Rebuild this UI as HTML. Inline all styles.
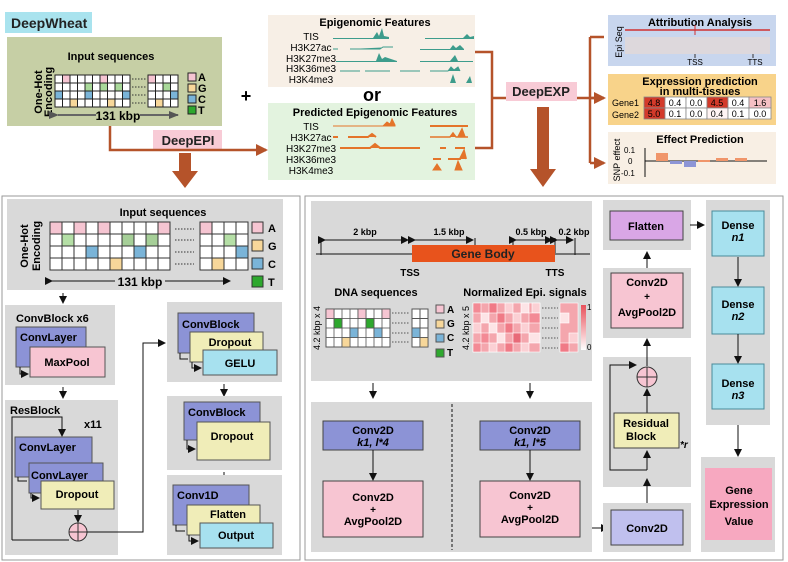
<!DOCTYPE html>
<html><head><meta charset="utf-8"><style>
body{margin:0;background:#fff}
svg{display:block;font-family:"Liberation Sans",Arial,sans-serif}
.b{font-weight:bold}
</style></head><body>
<svg width="788" height="562" viewBox="0 0 788 562" xmlns="http://www.w3.org/2000/svg">
<defs>
<marker id="ak" markerWidth="8" markerHeight="8" refX="7" refY="4" orient="auto" markerUnits="userSpaceOnUse"><path d="M0,0 L8,4 L0,8 z" fill="#111"/></marker>
<marker id="ar" markerWidth="12" markerHeight="12" refX="10" refY="6" orient="auto" markerUnits="userSpaceOnUse"><path d="M0,0 L12,6 L0,12 z" fill="#b5532a"/></marker>
<marker id="ag" markerWidth="10" markerHeight="10" refX="9" refY="5" orient="auto" markerUnits="userSpaceOnUse"><path d="M0,1 L10,5 L0,9 z" fill="#555"/></marker>
<pattern id="g7" x="55" y="75" width="7.5" height="8" patternUnits="userSpaceOnUse"><rect width="7.5" height="8" fill="#fff" stroke="#222" stroke-width="1"/></pattern>
<pattern id="g12" x="50" y="222" width="12" height="12" patternUnits="userSpaceOnUse"><rect width="12" height="12" fill="#fff" stroke="#333" stroke-width="1"/></pattern>
<pattern id="g12b" x="200" y="222" width="12" height="12" patternUnits="userSpaceOnUse"><rect width="12" height="12" fill="#fff" stroke="#333" stroke-width="1"/></pattern>
<pattern id="g8" x="326" y="309" width="8" height="9.5" patternUnits="userSpaceOnUse"><rect width="8" height="9.5" fill="#fff" stroke="#555" stroke-width="0.8"/></pattern>
<linearGradient id="cb" x1="0" y1="0" x2="0" y2="1"><stop offset="0" stop-color="#e8505a"/><stop offset="1" stop-color="#fff"/></linearGradient>
</defs>

<!-- ===== TOP ===== -->
<rect x="5" y="12" width="87" height="21" fill="#a9e3ee"/>
<text x="11" y="28" class="b" font-size="14" fill="#222">DeepWheat</text>
<rect x="7" y="37" width="215" height="89" fill="#c6cfa5"/>
<text x="111" y="60" class="b" font-size="11" text-anchor="middle">Input sequences</text>
<text transform="translate(42,92) rotate(-90)" class="b" font-size="11" text-anchor="middle">One-Hot</text>
<text transform="translate(52,92) rotate(-90)" class="b" font-size="11" text-anchor="middle">Encoding</text>
<rect x="55" y="75" width="75" height="32" fill="url(#g7)" stroke="#222"/>
<rect x="148" y="75" width="30" height="32" fill="#fff" stroke="#222"/>
<path d="M155.5,75v32M163,75v32M170.5,75v32M148,83h30M148,91h30M148,99h30" stroke="#222" fill="none"/>
<g stroke="#222" stroke-width="1">
<rect x="62.5" y="75" width="7.5" height="8" fill="#f6c5d2"/><rect x="100" y="75" width="7.5" height="8" fill="#f6c5d2"/><rect x="148" y="75" width="7.5" height="8" fill="#f6c5d2"/>
<rect x="85" y="83" width="7.5" height="8" fill="#a9d99a"/><rect x="100" y="83" width="7.5" height="8" fill="#a9d99a"/><rect x="115" y="83" width="7.5" height="8" fill="#a9d99a"/><rect x="163" y="83" width="7.5" height="8" fill="#a9d99a"/>
<rect x="55" y="91" width="7.5" height="8" fill="#7ab4d8"/><rect x="85" y="91" width="7.5" height="8" fill="#7ab4d8"/><rect x="122.5" y="91" width="7.5" height="8" fill="#7ab4d8"/><rect x="170.5" y="91" width="7.5" height="8" fill="#7ab4d8"/>
<rect x="70" y="99" width="7.5" height="8" fill="#f7d79a"/><rect x="107.5" y="99" width="7.5" height="8" fill="#f7d79a"/><rect x="155.5" y="99" width="7.5" height="8" fill="#f7d79a"/>
</g>
<path d="M132,79h14M132,87h14M132,95h14M132,103h14" stroke="#333" stroke-dasharray="1.5,1.5"/>
<g stroke="#222"><rect x="188" y="73" width="8" height="8" fill="#f6c5d2"/><rect x="188" y="84" width="8" height="8" fill="#f7d79a"/><rect x="188" y="95" width="8" height="8" fill="#7ab4d8"/><rect x="188" y="106" width="8" height="8" fill="#2ea82e"/></g>
<g class="b" font-size="11"><text x="198" y="81">A</text><text x="198" y="92">G</text><text x="198" y="103">C</text><text x="198" y="114">T</text></g>
<line x1="58" y1="115" x2="96" y2="115" stroke="#666" stroke-width="2" marker-start="url(#ag)"/>
<line x1="140" y1="115" x2="178" y2="115" stroke="#666" stroke-width="2" marker-end="url(#ag)"/>
<text x="118" y="120" class="b" font-size="12" text-anchor="middle">131 kbp</text>
<text x="246" y="102" class="b" font-size="18" text-anchor="middle">+</text>

<rect x="268" y="15" width="207" height="72" fill="#f7efe6"/>
<text x="375" y="26" class="b" font-size="11" text-anchor="middle">Epigenomic Features</text>
<g font-size="10" text-anchor="middle"><text x="311" y="40">TIS</text><text x="311" y="51">H3K27ac</text><text x="311" y="62">H3K27me3</text><text x="311" y="72">H3K36me3</text><text x="311" y="83">H3K4me3</text></g>
<g fill="#3d9c8c">
<path d="M333,38h40l4,-6 2,4 3,-8 2,8 5,1v2h-56z"/><path d="M425,38h38l4,-4 3,3 4,-1v3h-49z"/>
<path d="M333,49h5M350,49h30l3,-2h10" stroke="#3d9c8c"/><path d="M420,49h30l3,-4 3,3 4,-3 4,4v1h-44z"/>
<path d="M336,61h40l3,-8 3,6 3,-2 12,4v1h-61z"/><path d="M420,61h30l5,-6 3,6h15v1h-53z"/>
<path d="M340,71h20M365,71h25M400,71h20M430,71h18l3,-4 3,3 4,-3 2,4" stroke="#3d9c8c"/>
<path d="M445,83h5l3,-9 3,9h10l4,-7 2,7z"/>
</g>
<text x="372" y="101" class="b" font-size="18" text-anchor="middle">or</text>
<rect x="268" y="103" width="207" height="77" fill="#e3f3df"/>
<text x="375" y="116" class="b" font-size="11" text-anchor="middle">Predicted Epigenomic Features</text>
<g font-size="10" text-anchor="middle"><text x="311" y="130">TIS</text><text x="311" y="141">H3K27ac</text><text x="311" y="152">H3K27me3</text><text x="311" y="163">H3K36me3</text><text x="311" y="174">H3K4me3</text></g>
<g fill="#e4742a" stroke="#e4742a">
<path d="M333,126h50l4,-4 3,2 2,-5 3,6v1h-62z"/><path d="M430,126h38" stroke-width="2"/>
<path d="M333,137h5M348,137h20l4,-3 4,3" stroke-width="2"/><path d="M430,137h20l3,-4 3,4h12M458,137l4,-8 3,8" stroke-width="1.5"/>
<path d="M340,148h30l5,-4 5,4h40M440,148h6M455,148h10" stroke-width="2"/>
<path d="M433,159h8M448,159h12l4,-8 2,8" stroke-width="2"/>
<path d="M433,170l4,-6 4,6zM455,170l3,-9 4,9z"/>
</g>

<rect x="153" y="130" width="69" height="20" fill="#f8cbd6"/>
<text x="188" y="145" class="b" font-size="13" text-anchor="middle" fill="#222">DeepEPI</text>
<path d="M110,126V150H266" stroke="#b5532a" stroke-width="2.5" fill="none" marker-end="url(#ar)"/>
<path d="M179,153h12v18h7l-13,17l-13,-17h7z" fill="#b5532a"/>
<path d="M475,52H492V148H475M492,98H602" stroke="#b5532a" stroke-width="2.5" fill="none"/>
<path d="M590,37V163" stroke="#b5532a" stroke-width="2.5"/>
<path d="M590,37H604M590,163H604" stroke="#b5532a" stroke-width="2.5" marker-end="url(#ar)"/>
<path d="M590,98H604" stroke="#b5532a" stroke-width="2.5" marker-end="url(#ar)"/>
<rect x="506" y="82" width="71" height="19" fill="#f8cbd6"/>
<text x="541" y="96" class="b" font-size="13" text-anchor="middle" fill="#222">DeepEXP</text>
<path d="M537,107h12v62h7l-13,18l-13,-18h7z" fill="#b5532a"/>

<rect x="608" y="15" width="168" height="51" fill="#c8d6ee"/>
<text x="700" y="26" class="b" font-size="11" text-anchor="middle">Attribution Analysis</text>
<text transform="translate(622,42) rotate(-90)" font-size="9" text-anchor="middle">Epi Seq</text>
<path d="M625,30h145" stroke="#d03030" stroke-width="1.5"/><path d="M695,25v10" stroke="#d03030"/>
<rect x="625" y="37" width="145" height="17" fill="#ddd8dc"/>
<path d="M695,54v4M753,54v4" stroke="#333"/>
<text x="695" y="65" font-size="8" text-anchor="middle">TSS</text><text x="755" y="65" font-size="8" text-anchor="middle">TTS</text>
<rect x="608" y="74" width="168" height="51" fill="#f8d38a"/>
<text x="700" y="85" class="b" font-size="11" text-anchor="middle">Expression prediction</text>
<text x="700" y="95" class="b" font-size="11" text-anchor="middle">in multi-tissues</text>
<g font-size="9"><text x="612" y="106">Gene1</text><text x="612" y="118">Gene2</text></g>
<g stroke="#888" stroke-width="0.8">
<rect x="644" y="97" width="21" height="11" fill="#d33a2a"/><rect x="665" y="97" width="21" height="11" fill="#fff"/><rect x="686" y="97" width="21" height="11" fill="#fff"/><rect x="707" y="97" width="21" height="11" fill="#d33a2a"/><rect x="728" y="97" width="21" height="11" fill="#fff"/><rect x="749" y="97" width="22" height="11" fill="#f5c0c4"/>
<rect x="644" y="108" width="21" height="11" fill="#d33a2a"/><rect x="665" y="108" width="21" height="11" fill="#fff"/><rect x="686" y="108" width="21" height="11" fill="#fff"/><rect x="707" y="108" width="21" height="11" fill="#fff4f4"/><rect x="728" y="108" width="21" height="11" fill="#fff"/><rect x="749" y="108" width="22" height="11" fill="#fff"/>
</g>
<g font-size="9" text-anchor="middle"><text x="654" y="106">4.8</text><text x="675" y="106">0.4</text><text x="696" y="106">0.0</text><text x="717" y="106">4.5</text><text x="738" y="106">0.4</text><text x="760" y="106">1.6</text>
<text x="654" y="117">5.0</text><text x="675" y="117">0.1</text><text x="696" y="117">0.0</text><text x="717" y="117">0.4</text><text x="738" y="117">0.1</text><text x="760" y="117">0.0</text></g>
<rect x="608" y="132" width="168" height="52" fill="#f8efe4"/>
<text x="700" y="143" class="b" font-size="11" text-anchor="middle">Effect Prediction</text>
<text transform="translate(620,160) rotate(-90)" font-size="9" text-anchor="middle">SNP effect</text>
<g font-size="8"><text x="624" y="153">0.1</text><text x="628" y="164">0</text><text x="621" y="176">-0.1</text></g>
<path d="M645,148v29M645,161h122" stroke="#111"/>
<g fill="#f0956a"><rect x="656" y="153" width="12" height="8"/><rect x="698" y="160" width="12" height="2"/><rect x="716" y="158" width="12" height="3"/><rect x="735" y="158" width="12" height="3"/></g>
<g fill="#8d95d6"><rect x="670" y="161" width="12" height="3"/><rect x="684" y="161" width="12" height="6"/></g>

<!-- ===== PANEL BORDERS ===== -->
<rect x="2" y="196" width="298" height="364" fill="none" stroke="#999"/>
<rect x="305" y="196" width="478" height="364" fill="none" stroke="#999"/>

<!-- ===== BOTTOM LEFT ===== -->
<rect x="7" y="199" width="276" height="91" fill="#d9d9d9"/>
<text x="163" y="216" class="b" font-size="11" text-anchor="middle">Input sequences</text>
<text transform="translate(28,246) rotate(-90)" class="b" font-size="11" text-anchor="middle">One-Hot</text>
<text transform="translate(40,246) rotate(-90)" class="b" font-size="11" text-anchor="middle">Encoding</text>
<rect x="50" y="222" width="120" height="48" fill="url(#g12)" stroke="#333"/>
<rect x="200" y="222" width="48" height="48" fill="url(#g12b)" stroke="#333"/>
<g stroke="#333">
<rect x="50" y="222" width="12" height="12" fill="#f6c5d2"/><rect x="74" y="222" width="12" height="12" fill="#f6c5d2"/><rect x="98" y="222" width="12" height="12" fill="#f6c5d2"/><rect x="158" y="222" width="12" height="12" fill="#f6c5d2"/><rect x="200" y="222" width="12" height="12" fill="#f6c5d2"/>
<rect x="62" y="234" width="12" height="12" fill="#b5dfa6"/><rect x="122" y="234" width="12" height="12" fill="#a6cf98"/><rect x="146" y="234" width="12" height="12" fill="#a6cf98"/><rect x="224" y="234" width="12" height="12" fill="#b5dfa6"/>
<rect x="86" y="246" width="12" height="12" fill="#7ab4d8"/><rect x="134" y="246" width="12" height="12" fill="#7ab4d8"/><rect x="236" y="246" width="12" height="12" fill="#7ab4d8"/>
<rect x="110" y="258" width="12" height="12" fill="#f7d79a"/><rect x="212" y="258" width="12" height="12" fill="#f7d79a"/>
</g>
<path d="M175,229h19M175,240h19M175,252h19M175,264h19" stroke="#333" stroke-dasharray="1.5,1.5"/>
<g stroke="#333"><rect x="252" y="222" width="11" height="11" fill="#f6c5d2"/><rect x="252" y="240" width="11" height="11" fill="#f7d79a"/><rect x="252" y="258" width="11" height="11" fill="#7ab4d8"/><rect x="252" y="276" width="11" height="11" fill="#2ea82e"/></g>
<g class="b" font-size="11"><text x="268" y="232">A</text><text x="268" y="250">G</text><text x="268" y="268">C</text><text x="268" y="286">T</text></g>
<line x1="52" y1="281" x2="115" y2="281" stroke="#111" marker-start="url(#ak)"/>
<line x1="165" y1="281" x2="230" y2="281" stroke="#111" marker-end="url(#ak)"/>
<text x="140" y="286" class="b" font-size="12" text-anchor="middle">131 kbp</text>
<line x1="63" y1="293" x2="63" y2="303" stroke="#111" marker-end="url(#ak)"/>

<rect x="5" y="305" width="110" height="80" fill="#d9d9d9"/>
<text x="16" y="322" class="b" font-size="11">ConvBlock x6</text>
<rect x="16" y="327" width="70" height="40" fill="#8c93d6" stroke="#555"/>
<text x="20" y="341" class="b" font-size="11">ConvLayer</text>
<rect x="30" y="347" width="75" height="30" fill="#f7c5d2" stroke="#555"/>
<text x="67" y="366" class="b" font-size="11" text-anchor="middle">MaxPool</text>
<path d="M20,367v7h8" stroke="#111" fill="none" marker-end="url(#ak)"/>
<line x1="63" y1="387" x2="63" y2="398" stroke="#111" marker-end="url(#ak)"/>

<rect x="5" y="400" width="113" height="155" fill="#d9d9d9"/>
<text x="10" y="414" class="b" font-size="11">ResBlock</text>
<text x="84" y="428" class="b" font-size="11">x11</text>
<path d="M12,540V417H62V436" stroke="#111" fill="none" marker-end="url(#ak)"/>
<rect x="15" y="437" width="77" height="40" fill="#8c93d6" stroke="#555"/>
<text x="19" y="451" class="b" font-size="11">ConvLayer</text>
<rect x="29" y="463" width="74" height="30" fill="#8c93d6" stroke="#555"/>
<text x="31" y="479" class="b" font-size="11">ConvLayer</text>
<rect x="41" y="481" width="73" height="28" fill="#f0edb8" stroke="#555"/>
<text x="77" y="498" class="b" font-size="11" text-anchor="middle">Dropout</text>
<path d="M18,477v4h9M31,493v5h8" stroke="#111" fill="none" marker-end="url(#ak)"/>
<line x1="78" y1="510" x2="78" y2="522" stroke="#111" marker-end="url(#ak)"/>
<circle cx="78" cy="532" r="9" fill="#f7c5d2" stroke="#333"/>
<path d="M69,532h18M78,523v18" stroke="#333"/>
<path d="M12,540h57" stroke="#111"/>
<path d="M87,532H143V343H165" stroke="#111" fill="none" marker-end="url(#ak)"/>

<rect x="167" y="302" width="115" height="80" fill="#d9d9d9"/>
<rect x="178" y="313" width="76" height="40" fill="#8c93d6" stroke="#555"/>
<text x="182" y="328" class="b" font-size="11">ConvBlock</text>
<rect x="190" y="332" width="73" height="30" fill="#f0edb8" stroke="#555"/>
<text x="230" y="346" class="b" font-size="11" text-anchor="middle">Dropout</text>
<rect x="203" y="350" width="74" height="25" fill="#a7e1ef" stroke="#555"/>
<text x="240" y="367" class="b" font-size="11" text-anchor="middle">GELU</text>
<path d="M180,353v6h8M192,362v6h9" stroke="#111" fill="none" marker-end="url(#ak)"/>
<line x1="224" y1="384" x2="224" y2="396" stroke="#111" marker-end="url(#ak)"/>
<rect x="167" y="396" width="115" height="74" fill="#d9d9d9"/>
<rect x="184" y="402" width="76" height="38" fill="#8c93d6" stroke="#555"/>
<text x="188" y="416" class="b" font-size="11">ConvBlock</text>
<rect x="197" y="422" width="73" height="38" fill="#f0edb8" stroke="#555"/>
<text x="232" y="440" class="b" font-size="11" text-anchor="middle">Dropout</text>
<path d="M187,440v9h8" stroke="#111" fill="none" marker-end="url(#ak)"/>
<line x1="224" y1="472" x2="224" y2="484" stroke="#111" marker-end="url(#ak)"/>
<rect x="167" y="475" width="115" height="80" fill="#d9d9d9"/>
<rect x="173" y="485" width="76" height="40" fill="#8c93d6" stroke="#555"/>
<text x="177" y="499" class="b" font-size="11">Conv1D</text>
<rect x="187" y="505" width="73" height="30" fill="#f0edb8" stroke="#555"/>
<text x="228" y="518" class="b" font-size="11" text-anchor="middle">Flatten</text>
<rect x="200" y="523" width="73" height="25" fill="#a7e1ef" stroke="#555"/>
<text x="236" y="539" class="b" font-size="11" text-anchor="middle">Output</text>
<path d="M176,525v6h9M189,535v6h9" stroke="#111" fill="none" marker-end="url(#ak)"/>

<!-- ===== BOTTOM RIGHT ===== -->
<rect x="311" y="201" width="281" height="180" fill="#d9d9d9"/>
<g class="b" font-size="9" text-anchor="middle"><text x="365" y="235">2 kbp</text><text x="449" y="235">1.5 kbp</text><text x="531" y="235">0.5 kbp</text><text x="574" y="235">0.2 kbp</text></g>
<path d="M316,254H412M556,254H590M321,238v17M475,238v12M513,238v12M555,238v17M575,238v17" stroke="#111"/>
<line x1="325" y1="240" x2="408" y2="240" stroke="#111" marker-start="url(#ak)" marker-end="url(#ak)"/>
<line x1="415" y1="240" x2="473" y2="240" stroke="#111" marker-start="url(#ak)" marker-end="url(#ak)"/>
<line x1="516" y1="240" x2="552" y2="240" stroke="#111" marker-start="url(#ak)" marker-end="url(#ak)"/>
<line x1="557" y1="240" x2="573" y2="240" stroke="#111" marker-start="url(#ak)" marker-end="url(#ak)"/>
<rect x="412" y="245" width="143" height="17" fill="#e8531c"/>
<text x="483" y="258" class="b" font-size="12" text-anchor="middle" fill="#222">Gene Body</text>
<g class="b" font-size="10" text-anchor="middle"><text x="410" y="276">TSS</text><text x="555" y="276">TTS</text></g>
<text x="376" y="296" class="b" font-size="11" text-anchor="middle">DNA sequences</text>
<text x="525" y="296" class="b" font-size="11" text-anchor="middle">Normalized Epi. signals</text>
<text transform="translate(320,328) rotate(-90)" font-size="9" text-anchor="middle">4.2 kbp x 4</text>
<rect x="326" y="309" width="64" height="38" fill="url(#g8)" stroke="#555"/>
<rect x="412" y="309" width="16" height="38" fill="#fff" stroke="#555"/>
<path d="M420,309v38M412,318.5h16M412,328h16M412,337.5h16" stroke="#555"/>
<g stroke="#555" stroke-width="0.8">
<rect x="326" y="309" width="8" height="9.5" fill="#f6c5d2"/><rect x="358" y="309" width="8" height="9.5" fill="#f6c5d2"/><rect x="382" y="309" width="8" height="9.5" fill="#f6c5d2"/>
<rect x="334" y="318.5" width="8" height="9.5" fill="#2ea82e"/><rect x="366" y="318.5" width="8" height="9.5" fill="#2ea82e"/>
<rect x="350" y="328" width="8" height="9.5" fill="#7ab4d8"/><rect x="374" y="328" width="8" height="9.5" fill="#7ab4d8"/><rect x="412" y="328" width="8" height="9.5" fill="#7ab4d8"/>
<rect x="342" y="337.5" width="8" height="9.5" fill="#f7d79a"/><rect x="420" y="337.5" width="8" height="9.5" fill="#f7d79a"/>
</g>
<path d="M392,313h17M392,323h17M392,333h17M392,342h17" stroke="#555" stroke-dasharray="1.5,1.5"/>
<g stroke="#555"><rect x="436" y="305" width="8" height="8" fill="#f6c5d2"/><rect x="436" y="320" width="8" height="8" fill="#f7d79a"/><rect x="436" y="334" width="8" height="8" fill="#7ab4d8"/><rect x="436" y="349" width="8" height="8" fill="#2ea82e"/></g>
<g class="b" font-size="10"><text x="447" y="313">A</text><text x="447" y="327">G</text><text x="447" y="341">C</text><text x="447" y="356">T</text></g>
<text transform="translate(469,328) rotate(-90)" font-size="9" text-anchor="middle">4.2 kbp x 5</text>
<g stroke="#fff" stroke-width="0.6">
<rect x="473" y="303" width="67" height="49" fill="#f4a6ad"/>
<rect x="473" y="303" width="8" height="10" fill="#f38a95"/><rect x="489" y="303" width="8" height="10" fill="#f07a86"/><rect x="505" y="303" width="8" height="10" fill="#fbd0d4"/><rect x="521" y="303" width="8" height="10" fill="#fde4e6"/><rect x="532" y="303" width="8" height="10" fill="#fbd0d4"/>
<rect x="481" y="313" width="8" height="10" fill="#fde4e6"/><rect x="497" y="313" width="8" height="10" fill="#f07a86"/><rect x="513" y="313" width="8" height="10" fill="#fbd0d4"/><rect x="529" y="313" width="11" height="10" fill="#f38a95"/>
<rect x="473" y="323" width="8" height="10" fill="#fbd0d4"/><rect x="489" y="323" width="8" height="10" fill="#fde4e6"/><rect x="505" y="323" width="8" height="10" fill="#f07a86"/><rect x="521" y="323" width="8" height="10" fill="#fbd0d4"/>
<rect x="481" y="333" width="8" height="10" fill="#f38a95"/><rect x="497" y="333" width="8" height="10" fill="#fde4e6"/><rect x="513" y="333" width="8" height="10" fill="#e86a78"/><rect x="529" y="333" width="11" height="10" fill="#fde4e6"/>
<rect x="473" y="343" width="8" height="9" fill="#f38a95"/><rect x="489" y="343" width="8" height="9" fill="#fbd0d4"/><rect x="505" y="343" width="8" height="9" fill="#f07a86"/><rect x="521" y="343" width="8" height="9" fill="#fbd0d4"/>
<rect x="560" y="303" width="18" height="49" fill="#f4a6ad"/><rect x="560" y="313" width="9" height="10" fill="#fde4e6"/><rect x="569" y="333" width="9" height="10" fill="#fbd0d4"/><rect x="560" y="343" width="9" height="9" fill="#f07a86"/>
</g>
<path d="M542,308h16M542,318h16M542,328h16M542,338h16M542,348h16" stroke="#555" stroke-dasharray="1.5,1.5"/>
<rect x="581" y="305" width="5" height="45" fill="url(#cb)"/>
<g font-size="8"><text x="587" y="310">1</text><text x="587" y="350">0</text></g>
<line x1="373" y1="383" x2="373" y2="398" stroke="#111" marker-end="url(#ak)"/>
<line x1="530" y1="383" x2="530" y2="398" stroke="#111" marker-end="url(#ak)"/>

<rect x="311" y="402" width="281" height="150" fill="#d9d9d9"/>
<path d="M452,404V550" stroke="#111" stroke-dasharray="3,2"/>
<rect x="323" y="421" width="100" height="29" fill="#8c93d6" stroke="#444"/>
<text x="373" y="434" class="b" font-size="11" text-anchor="middle">Conv2D</text>
<text x="373" y="446" class="b" font-size="11" font-style="italic" text-anchor="middle">k1, l*4</text>
<line x1="373" y1="450" x2="373" y2="480" stroke="#111" marker-end="url(#ak)"/>
<rect x="323" y="481" width="100" height="56" fill="#f7c5d2" stroke="#444"/>
<text x="373" y="501" class="b" font-size="11" text-anchor="middle">Conv2D</text>
<text x="373" y="513" class="b" font-size="10" text-anchor="middle">+</text>
<text x="373" y="525" class="b" font-size="11" text-anchor="middle">AvgPool2D</text>
<rect x="480" y="421" width="100" height="29" fill="#8c93d6" stroke="#444"/>
<text x="530" y="434" class="b" font-size="11" text-anchor="middle">Conv2D</text>
<text x="530" y="446" class="b" font-size="11" font-style="italic" text-anchor="middle">k1, l*5</text>
<line x1="530" y1="450" x2="530" y2="480" stroke="#111" marker-end="url(#ak)"/>
<rect x="480" y="481" width="100" height="56" fill="#f7c5d2" stroke="#444"/>
<text x="530" y="499" class="b" font-size="11" text-anchor="middle">Conv2D</text>
<text x="530" y="511" class="b" font-size="10" text-anchor="middle">+</text>
<text x="530" y="523" class="b" font-size="11" text-anchor="middle">AvgPool2D</text>
<line x1="592" y1="528" x2="608" y2="528" stroke="#111" marker-end="url(#ak)"/>

<rect x="603" y="200" width="88" height="50" fill="#d9d9d9"/>
<rect x="610" y="211" width="73" height="29" fill="#d9a6e6" stroke="#444"/>
<text x="646" y="230" class="b" font-size="11" text-anchor="middle">Flatten</text>
<line x1="690" y1="225" x2="704" y2="225" stroke="#111" marker-end="url(#ak)"/>
<rect x="603" y="268" width="88" height="70" fill="#d9d9d9"/>
<line x1="647" y1="268" x2="647" y2="252" stroke="#111" marker-end="url(#ak)"/>
<rect x="611" y="273" width="72" height="55" fill="#f7c5d2" stroke="#444"/>
<text x="647" y="286" class="b" font-size="11" text-anchor="middle">Conv2D</text>
<text x="647" y="300" class="b" font-size="10" text-anchor="middle">+</text>
<text x="647" y="316" class="b" font-size="11" text-anchor="middle">AvgPool2D</text>
<rect x="603" y="357" width="88" height="130" fill="#d9d9d9"/>
<line x1="647" y1="366" x2="647" y2="339" stroke="#111" marker-end="url(#ak)"/>
<circle cx="647" cy="377" r="10" fill="#f7c5d2" stroke="#333"/>
<path d="M637,377h20M647,367v20" stroke="#333"/>
<line x1="647" y1="413" x2="647" y2="389" stroke="#111" marker-end="url(#ak)"/>
<rect x="614" y="413" width="65" height="35" fill="#f0edb8" stroke="#444"/>
<text x="646" y="427" class="b" font-size="11" text-anchor="middle">Residual</text>
<text x="641" y="440" class="b" font-size="11" text-anchor="middle">Block</text>
<text x="680" y="448" class="b" font-size="10" font-style="italic">*r</text>
<path d="M647,470V451" stroke="#111" marker-end="url(#ak)"/>
<path d="M647,470H610V365H636" stroke="#111" fill="none" marker-end="url(#ak)"/>
<line x1="647" y1="503" x2="647" y2="479" stroke="#111" marker-end="url(#ak)"/>
<rect x="603" y="503" width="88" height="49" fill="#d9d9d9"/>
<rect x="611" y="510" width="72" height="35" fill="#c0c0ee" stroke="#444"/>
<text x="647" y="532" class="b" font-size="11" text-anchor="middle">Conv2D</text>

<rect x="706" y="200" width="64" height="225" fill="#d9d9d9"/>
<rect x="712" y="211" width="52" height="45" fill="#a7e1ef" stroke="#4a8a9a"/>
<text x="738" y="229" class="b" font-size="11" text-anchor="middle">Dense</text><text x="738" y="241" class="b" font-size="11" font-style="italic" text-anchor="middle">n1</text>
<line x1="738" y1="257" x2="738" y2="286" stroke="#111" marker-end="url(#ak)"/>
<rect x="712" y="287" width="52" height="47" fill="#a7e1ef" stroke="#4a8a9a"/>
<text x="738" y="308" class="b" font-size="11" text-anchor="middle">Dense</text><text x="738" y="320" class="b" font-size="11" font-style="italic" text-anchor="middle">n2</text>
<line x1="738" y1="334" x2="738" y2="363" stroke="#111" marker-end="url(#ak)"/>
<rect x="712" y="364" width="52" height="45" fill="#a7e1ef" stroke="#4a8a9a"/>
<text x="738" y="387" class="b" font-size="11" text-anchor="middle">Dense</text><text x="738" y="399" class="b" font-size="11" font-style="italic" text-anchor="middle">n3</text>
<line x1="738" y1="425" x2="738" y2="456" stroke="#111" marker-end="url(#ak)"/>
<rect x="701" y="457" width="74" height="95" fill="#d9d9d9"/>
<rect x="705" y="468" width="67" height="72" fill="#f7a8c0"/>
<text x="739" y="494" class="b" font-size="11" text-anchor="middle">Gene</text>
<text x="739" y="508" class="b" font-size="11" text-anchor="middle">Expression</text>
<text x="739" y="525" class="b" font-size="11" text-anchor="middle">Value</text>
</svg>
</body></html>
